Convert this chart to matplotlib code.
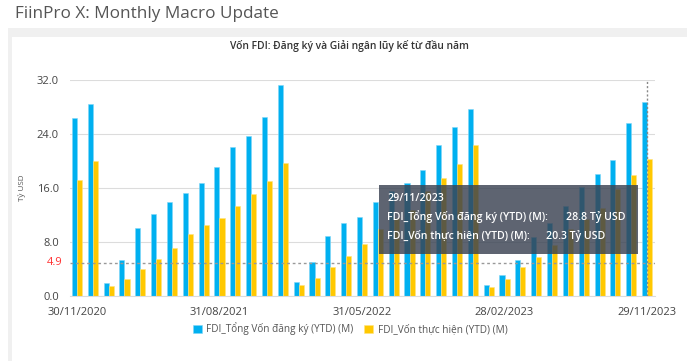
import numpy as np
import matplotlib
matplotlib.use('Agg')
import matplotlib.pyplot as plt
from matplotlib.patches import Rectangle

plt.rcParams['font.family'] = ['Open Sans', 'DejaVu Sans']

# Von FDI luy ke tu dau nam, 30/11/2020 -> 29/11/2023 (ty USD)
dang_ky = [26.4, 28.5,
           2.0, 5.4, 10.1, 12.2, 14.0, 15.3, 16.7, 19.1, 22.1, 23.7, 26.5, 31.2,
           2.1, 5.0, 8.9, 10.8, 11.7, 14.0, 15.5, 16.7, 18.7, 22.4, 25.1, 27.7,
           1.6, 3.1, 5.4, 8.8, 10.8, 13.4, 16.2, 18.1, 20.1, 25.7, 28.8]
thuc_hien = [17.2, 20.0,
             1.5, 2.5, 4.0, 5.5, 7.1, 9.2, 10.5, 11.6, 13.3, 15.1, 17.1, 19.7,
             1.6, 2.6, 4.3, 5.9, 7.7, 10.0, 11.5, 12.8, 15.5, 17.5, 19.6, 22.3,
             1.3, 2.5, 4.3, 5.8, 7.6, 9.9, 11.4, 13.0, 15.8, 17.9, 20.3]
tick_pos = [0, 9, 18, 27, 36]
tick_labels = ['30/11/2020', '31/08/2021', '31/05/2022', '28/02/2023', '29/11/2023']
ref_line = 4.9
label_dk = 'FDI_Tổng Vốn đăng ký (YTD) (M)'
label_th = 'FDI_Vốn thực hiện (YTD) (M)'

W, H = 687, 361
BLUE = '#00b0f0'
YELLOW = '#ffc800'

fig = plt.figure(figsize=(W / 100, H / 100), dpi=100)


def fx(px):
    return px / W


def fy(py):
    return 1 - py / H


# card background
fig.patches.append(Rectangle((fx(8), 0), 1, fy(28), transform=fig.transFigure,
                             facecolor='#f0f0f0', edgecolor='none', zorder=-2))
fig.patches.append(Rectangle((fx(12), 0), 1, fy(37), transform=fig.transFigure,
                             facecolor='white', edgecolor='none', zorder=-1))

fig.text(fx(15), fy(14), 'FiinPro X: Monthly Macro Update', fontsize=12.3,
         color='#555555', va='center', ha='left')
fig.text(fx(349), fy(46), 'Vốn FDI: Đăng ký và Giải ngân lũy kế từ đầu năm',
         fontsize=7.4, color='#333333', weight='semibold', ha='center', va='center')

ax = fig.add_axes([fx(70), fy(296), (655 - 70) / W, 216 / H])
ax.set_facecolor('none')
ax.set_zorder(1)

x = np.arange(len(dang_ky))
w = 0.32
ax.bar(x - w / 2, dang_ky, width=w, color=BLUE, edgecolor='#7fd6f7', linewidth=0.4,
       label=label_dk, zorder=2)
ax.bar(x + w / 2, thuc_hien, width=w, color=YELLOW, edgecolor='#ffe380', linewidth=0.4,
       label=label_th, zorder=2)

ax.set_xlim(-0.44, 36.5)
ax.set_ylim(0, 32)
ax.set_yticks([0, 8, 16, 24, 32])
ax.set_yticklabels(['0.0', '8.0', '16.0', '24.0', '32.0'])
ax.set_xticks(tick_pos)
ax.set_xticklabels(tick_labels)
ax.tick_params(axis='both', length=0, labelsize=8, colors='#444444')
ax.tick_params(axis='y', pad=8)
ax.tick_params(axis='x', pad=8)
ax.grid(axis='y', color='#dcdcdc', linewidth=0.8, zorder=0)
for s in ['top', 'right', 'left']:
    ax.spines[s].set_visible(False)
ax.spines['bottom'].set_color('#dcdcdc')

# reference line at 4.9
ax.axhline(ref_line, color='#999999', linestyle=(0, (2, 2)), linewidth=1, zorder=3)
ax.text(-0.0137, ref_line, f'{ref_line}', color='#ff3030', fontsize=8,
        transform=ax.get_yaxis_transform(), ha='right', va='center')
# crosshair on last month
ax.axvline(x[-1], color='#888888', linestyle=(0, (1.5, 1.5)), linewidth=1, zorder=3)

ax.set_ylabel('Tỷ USD', fontsize=5.8, color='#555555', labelpad=8)

fig.legend(loc='center', bbox_to_anchor=(fx(350), fy(329)), ncol=2, frameon=False,
           fontsize=7.2, labelcolor='#555555', handlelength=0.9, handleheight=0.9,
           columnspacing=1.0, handletextpad=0.5)

# tooltip
fig.patches.append(Rectangle((fx(379), fy(254)), (638 - 379) / W, (254 - 185) / H,
                             transform=fig.transFigure, facecolor='#3a4252',
                             edgecolor='none', alpha=0.82, zorder=5))
tip = dict(color='white', fontsize=7.6, weight='semibold', va='center', zorder=6)
fig.text(fx(388), fy(199), tick_labels[-1], **tip)
fig.text(fx(387), fy(217), label_dk + ':', **tip)
fig.text(fx(566), fy(217), f'{dang_ky[-1]} Tỷ USD', **tip)
fig.text(fx(387), fy(236), label_th + ':', **tip)
fig.text(fx(546), fy(236), f'{thuc_hien[-1]} Tỷ USD', **tip)

fig.savefig('out.png', dpi=100)
